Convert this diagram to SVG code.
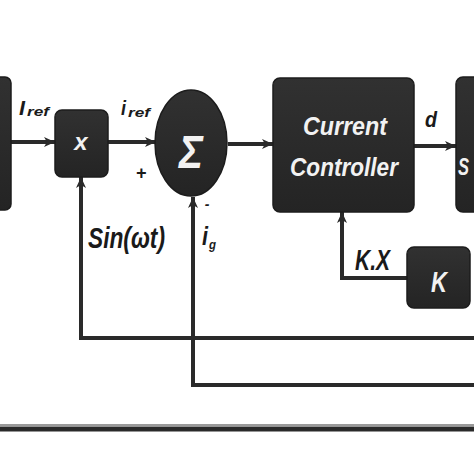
<svg xmlns="http://www.w3.org/2000/svg" width="474" height="474" viewBox="0 0 474 474">
<defs>
<marker id="ah" markerUnits="userSpaceOnUse" markerWidth="12" markerHeight="12" refX="11" refY="6" orient="auto">
<path d="M0,1 L11,6 L0,11 L3,6 z" fill="#2a2a2a"/>
</marker>
<linearGradient id="bg" x1="0" y1="0" x2="0" y2="1">
<stop offset="0" stop-color="#313131"/>
<stop offset="1" stop-color="#242424"/>
</linearGradient>
</defs>
<style>
.blk{fill:url(#bg);stroke:#1c1c1c;stroke-width:1.5}
.ln{fill:none;stroke:#2a2a2a;stroke-width:4}
.wt{fill:#f2f2f2;font-family:"Liberation Sans",Arial,sans-serif;font-style:italic;font-weight:bold}
.lb{fill:#1a1a1a;font-family:"Liberation Sans",Arial,sans-serif;font-style:italic;font-weight:bold}
</style>
<rect width="474" height="474" fill="#ffffff"/>
<g id="connectors">
<path class="ln" d="M11,142 H55" marker-end="url(#ah)"/>
<path class="ln" d="M108,142 H156" marker-end="url(#ah)"/>
<path class="ln" d="M228,144 H273" marker-end="url(#ah)"/>
<path class="ln" d="M414,146 H456" marker-end="url(#ah)"/>
<path class="ln" d="M474,338 H81 V177" marker-end="url(#ah)"/>
<path class="ln" d="M474,385 H193 V197" marker-end="url(#ah)"/>
<path class="ln" d="M407,278 H342 V212" marker-end="url(#ah)"/>
<line x1="0" y1="425" x2="474" y2="425" stroke="#9a9a9a" stroke-width="2"/>
<line x1="0" y1="429" x2="474" y2="429" stroke="#2a2a2a" stroke-width="5"/>
</g>
<g id="source">
<rect class="blk" x="-10" y="77" width="21" height="133" rx="6"/>
</g>
<g id="multiplier">
<rect class="blk" x="55" y="110" width="53" height="67" rx="7"/>
<text class="wt" x="81" y="150" font-size="24" text-anchor="middle" font-style="normal">x</text>
</g>
<g id="summer">
<ellipse class="blk" cx="191" cy="143" rx="36" ry="53"/>
<text class="wt" x="191" y="168" font-size="46" text-anchor="middle" font-style="normal" textLength="24" lengthAdjust="spacingAndGlyphs">Σ</text>
</g>
<g id="controller">
<rect class="blk" x="273" y="78" width="141" height="134" rx="7"/>
<text class="wt" x="345" y="135" font-size="26" text-anchor="middle" textLength="84" lengthAdjust="spacingAndGlyphs">Current</text>
<text class="wt" x="344" y="176" font-size="26" text-anchor="middle" textLength="108" lengthAdjust="spacingAndGlyphs">Controller</text>
</g>
<g id="switch">
<rect class="blk" x="456" y="77" width="40" height="135" rx="7"/>
<text class="wt" x="458" y="175" font-size="24" textLength="11" lengthAdjust="spacingAndGlyphs">S</text>
</g>
<g id="gain">
<rect class="blk" x="407" y="247" width="63" height="61" rx="7"/>
<text class="wt" x="439" y="292" font-size="30" text-anchor="middle" textLength="16" lengthAdjust="spacingAndGlyphs">K</text>
</g>
<g id="labels">
<text class="lb" x="19" y="115" font-size="21" textLength="6" lengthAdjust="spacingAndGlyphs">I</text>
<text class="lb" x="27" y="116" font-size="13" textLength="22" lengthAdjust="spacingAndGlyphs">ref</text>
<text class="lb" x="121" y="115" font-size="21" textLength="5" lengthAdjust="spacingAndGlyphs">i</text>
<text class="lb" x="128" y="117" font-size="13" textLength="22" lengthAdjust="spacingAndGlyphs">ref</text>
<text class="lb" x="141" y="179" font-size="18" text-anchor="middle" font-style="normal">+</text>
<text class="lb" x="425" y="127" font-size="22" textLength="12" lengthAdjust="spacingAndGlyphs">d</text>
<text class="lb" x="88" y="248" font-size="29" textLength="77" lengthAdjust="spacingAndGlyphs">Sin(ωt)</text>
<text class="lb" x="207" y="209" font-size="14" text-anchor="middle" font-style="normal">-</text>
<text class="lb" x="202" y="245" font-size="26" textLength="6" lengthAdjust="spacingAndGlyphs">i</text>
<text class="lb" x="209" y="249" font-size="13" textLength="7" lengthAdjust="spacingAndGlyphs">g</text>
<text class="lb" x="355" y="270" font-size="30" textLength="35" lengthAdjust="spacingAndGlyphs">K.X</text>
</g>
</svg>
